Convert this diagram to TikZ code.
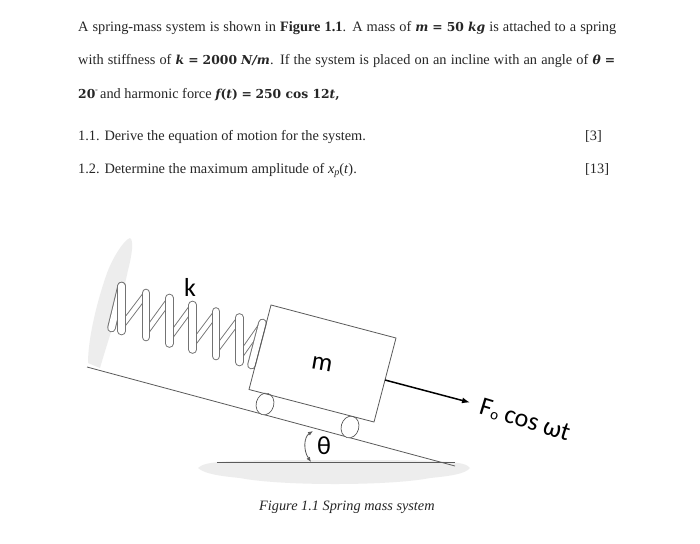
\documentclass[tikz,border=0pt]{standalone}
\usepackage{fontspec}
\setmainfont{Liberation Serif}
\newfontfamily\figfont{Carlito}
\newfontfamily\eqfont[Scale=0.86]{DejaVu Serif}
\usetikzlibrary{arrows.meta}
\definecolor{ink}{HTML}{262626}
\definecolor{linegray}{HTML}{5A5A5A}
\definecolor{softgray}{HTML}{EDEDED}
\newcommand{\bodysize}{\fontsize{14.35}{16}\selectfont}
\newcommand{\mb}[1]{{\eqfont\bfseries\itshape #1}}
\newcommand{\nb}[1]{{\eqfont\bfseries #1}}
\tikzset{
  x=1pt,y=-1pt,
  textline/.style={anchor=base west,inner sep=0pt,text=ink,font=\bodysize},
  figlabel/.style={inner sep=0pt,text=black,font=\figfont\fontsize{26}{28}\selectfont},
  thinline/.style={draw=linegray,line width=0.8pt},
  wheel/.style={draw=linegray,line width=0.7pt,fill=white},
  coilout/.style={draw=linegray!85,line width=8.6pt,line cap=round},
  coilin/.style={draw=white,line width=6.6pt,line cap=round},
  backout/.style={draw=linegray!85,line width=6.4pt},
  backin/.style={draw=white,line width=4.6pt},
}
\newcommand{\coil}[4]{%
  \draw[coilout] (#1,#2) -- (#3,#4);
  \draw[coilin] (#1,#2) -- (#3,#4);}
\newcommand{\backcoil}[4]{%
  \draw[backout] (#1,#2) -- (#3,#4);
  \draw[backin] (#1,#2) -- (#3,#4);}
\begin{document}
\begin{tikzpicture}
\useasboundingbox (0,0) rectangle (700,543);
\fill[white] (0,0) rectangle (700,543);
% text
\node[textline] (l1) at (78,31) {\makebox[538pt][s]{A spring-mass system is shown in \textbf{Figure 1.1}. A mass of \mb{m} \nb{=} \nb{50} \mb{kg} is attached to a spring}};
\node[textline] (l2) at (78,64) {\makebox[537pt][s]{with stiffness of \mb{k} \nb{=} \nb{2000} \mb{N/m}. If the system is placed on an incline with an angle of \mb{θ} \nb{=}}};
\node[textline] (l3) at (78,98) {\nb{20}\raisebox{5pt}{\fontsize{6}{6}\selectfont°}\,and harmonic force \mb{f}\nb{(}\mb{t}\nb{)} \nb{=} \nb{250 cos 12}\mb{t}\nb{,}};
\node[textline] (q1) at (78,140) {1.1. Derive the equation of motion for the system.};
\node[textline] (q2) at (78,173) {1.2. Determine the maximum amplitude of \textit{x}\raisebox{-2pt}{\fontsize{10}{10}\selectfont\textit{p}}(\textit{t}).};
\node[textline] (m1) at (585,140) {[3]};
\node[textline] (m2) at (585,173) {[13]};
% shaded wall and floor
\fill[softgray] (130,238) .. controls (124,240) and (112,258) .. (106,276)
  .. controls (96,305) and (88,340) .. (88,363) -- (100,368)
  .. controls (108,340) and (122,300) .. (128,270) .. controls (132,255) and (134,240) .. (130,238) -- cycle;
\fill[softgray] (198,468) .. controls (205,461) and (225,460) .. (335,460)
  .. controls (445,460) and (465,461) .. (470,468)
  .. controls (465,474) and (450,476) .. (430,478)
  .. controls (390,486) and (280,486) .. (240,478)
  .. controls (220,476) and (205,474) .. (198,468) -- cycle;
% incline and ground
\draw[thinline] (217,462.5) -- (455,462.5);
\draw[thinline] (87,367) -- (455,466);
% spring rear strands
\backcoil{121.7}{326}{146}{294}
\backcoil{146}{332}{169.3}{300}
\backcoil{169.3}{338}{192.7}{306}
\backcoil{192.7}{344}{216}{313}
\backcoil{216}{350}{239.3}{319}
\backcoil{239.3}{357}{261}{326}
% spring front coils
\coil{121.7}{286}{111.5}{328}
\coil{121.7}{286}{121.7}{331}
\coil{146}{293}{146}{337}
\coil{169.3}{298}{169.3}{343.5}
\coil{192.7}{305}{192.7}{349.5}
\coil{216}{311.5}{216}{356}
\coil{239.3}{317.5}{239.3}{362}
\coil{262.5}{323}{251.5}{365}
% wheels
\draw[wheel,rotate around={-15:(265,404)}] (265,404) ellipse [x radius=8.8,y radius=11];
\draw[wheel,rotate around={-15:(350,427)}] (350,427) ellipse [x radius=8.8,y radius=11];
% mass
\draw[thinline] (271,305) -- (396,338) -- (374,422) -- (249,389.5) -- cycle;
% force arrow
\coordinate (fs) at (385,380);
\coordinate (fe) at (470,402.5);
\draw[black,line width=1.5pt,-{Latex[length=8pt,width=6pt]}] (fs) -- (fe);
% angle arc
\draw[linegray,line width=0.8pt,{Latex[length=5pt,width=4pt]}-{Latex[length=5pt,width=4pt]}] (313,431) .. controls (304,437) and (303,450) .. (311,462);
% labels
\node[figlabel] (k) at (190,287) {k};
\node[figlabel,rotate=-10] (mass) at (322,364) {m};
\node[figlabel] (theta) at (324,446) {θ};
\node[figlabel,rotate=-17] (force) at (525,420) {F\raisebox{-1pt}{\fontsize{15}{15}\selectfont o} cos ωt};
\node[anchor=base west,inner sep=0pt,text=ink,font=\fontsize{14.3}{16}\selectfont\itshape] (cap) at (259,510) {Figure 1.1 Spring mass system};
\end{tikzpicture}
\end{document}
